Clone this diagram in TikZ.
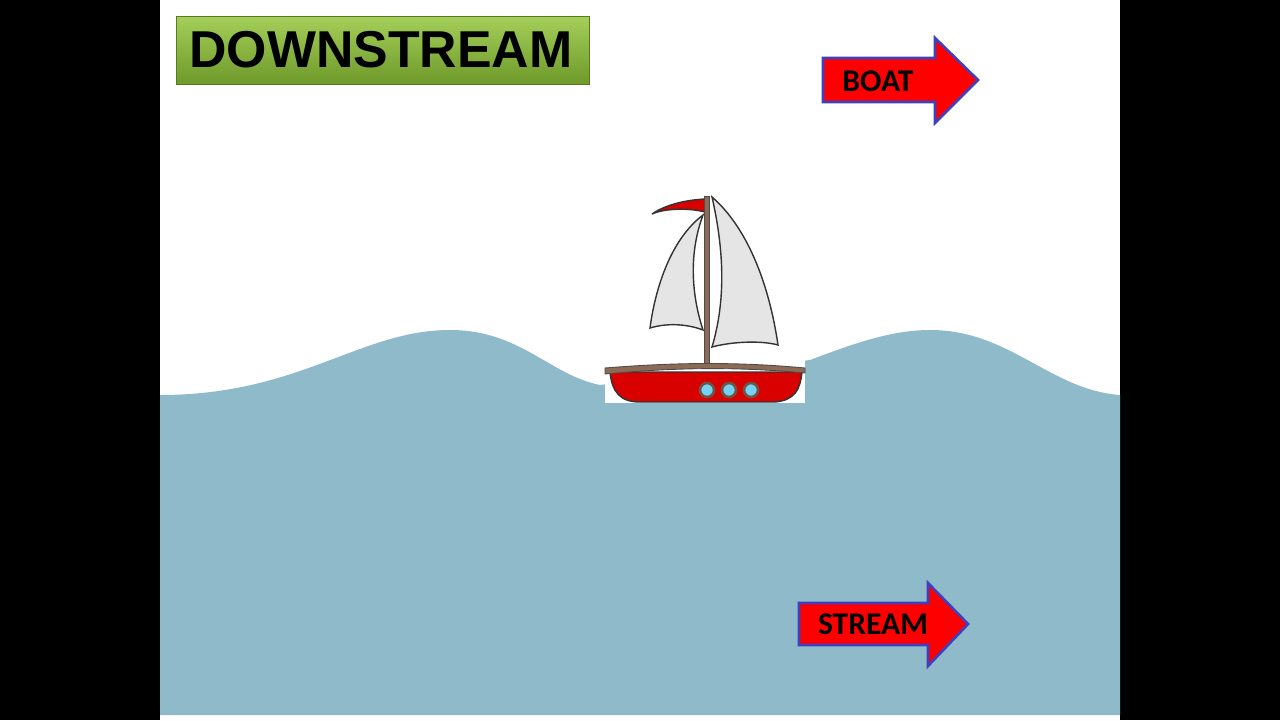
\documentclass[tikz,border=0pt]{standalone}
\usepackage{fontspec}
\setmainfont{Liberation Sans}
\newfontfamily\carfont{Carlito}
\begin{document}
\begin{tikzpicture}[x=0.02cm,y=-0.02cm,
  arr/.style={fill=red,draw=blue!50!gray,line width=1.5pt},
  lbl/.style={font=\carfont\bfseries\fontsize{18}{20}\selectfont,text=black},
  sail/.style={fill=gray!20,draw=black!80,line width=0.8pt}]
\definecolor{water}{HTML}{8FBAC9}
\definecolor{gtop}{HTML}{A5CF5A}
\definecolor{gbot}{HTML}{6E9A2A}
\definecolor{mast}{HTML}{8C6A55}
\useasboundingbox (0,0) rectangle (1280,720);
\fill[black] (0,0) rectangle (1280,720);
\fill[white] (160,0) rectangle (1120,720);
% water
\fill[water] (160,395) .. controls (300,395) and (360,330) .. (450,330)
  .. controls (520,330) and (550,375) .. (600,385) -- (810,360)
  .. controls (850,345) and (890,330) .. (930,330)
  .. controls (1010,330) and (1050,390) .. (1120,395) -- (1120,715) -- (160,715) -- cycle;
% title
\shade[top color=gtop,bottom color=gbot,draw=gbot!80!black] (176,16) rectangle (589,84);
\node (title) at (381,50) {\fontsize{29.5}{32}\selectfont\bfseries DOWNSTREAM};
% boat
\fill[white] (605,360) rectangle (805,403);
\draw[sail] (703,215) .. controls (670,240) and (655,290) .. (650,328) .. controls (670,322) and (690,325) .. (703,330) .. controls (690,290) and (690,250) .. (703,215) -- cycle;
\draw[sail] (712,197) .. controls (750,230) and (770,290) .. (778,345) .. controls (760,340) and (730,342) .. (712,347) .. controls (726,300) and (724,250) .. (712,197) -- cycle;
\draw[fill=red!85!black,draw=black!80,line width=0.8pt] (705,199) -- (705,212) .. controls (690,208) and (665,208) .. (652,214) .. controls (665,205) and (685,200) .. (705,199);
\draw[fill=mast,draw=black!70,line width=0.5pt] (704,196) rectangle (709,366);
\draw[fill=red!85!black,draw=black!80,line width=0.8pt] (610,372) .. controls (612,392) and (620,402) .. (640,402) -- (775,402) .. controls (795,400) and (800,390) .. (802,372) -- cycle;
\draw[fill=mast,draw=black!70,line width=0.5pt] (605,368) .. controls (680,362) and (740,362) .. (805,368) -- (805,373) .. controls (740,367) and (680,367) .. (605,374) -- cycle;
\foreach \x in {707,729,751}
  \draw[fill=cyan!55!white,draw=mast!80!black,line width=1.5pt] (\x,390) circle (7);
% arrows
\draw[arr] (823,58) -- (935,58) -- (935,38) -- (978,80) -- (935,123) -- (935,102) -- (823,102) -- cycle;
\node[lbl] (boat) at (878,81) {BOAT};
\draw[arr] (799,603) -- (928,603) -- (928,583) -- (968,624) -- (928,666) -- (928,645) -- (799,645) -- cycle;
\node[lbl] (stream) at (873,624) {STREAM};
\end{tikzpicture}
\end{document}
